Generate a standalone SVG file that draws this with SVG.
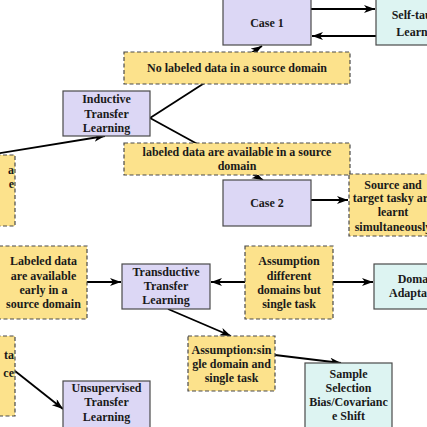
<svg xmlns="http://www.w3.org/2000/svg" width="427" height="427" viewBox="0 0 427 427">
<style>
text{font-family:"Liberation Serif","Times New Roman",serif;font-weight:bold;font-size:12px;fill:#1a1a1a;text-anchor:middle}
.p{fill:#dcd7f5;stroke:#4a4a4a;stroke-width:1.2}
.c{fill:#ddf4f2;stroke:#4a4a4a;stroke-width:1.2}
.y{fill:#fce28c;stroke:#4a4a4a;stroke-width:1.2;stroke-dasharray:4 2.5}
.l{stroke:#000;stroke-width:1.8;fill:none;marker-end:url(#ah)}
</style>
<defs>
<marker id="ah" markerUnits="userSpaceOnUse" markerWidth="12" markerHeight="10" refX="11" refY="4" orient="auto">
<path d="M0,0 L11,4 L0,8 L3,4 Z" fill="#000"/>
</marker>
</defs>
<rect width="427" height="427" fill="#fff"/>
<g id="connectors">
<line class="l" x1="-5" y1="154" x2="105" y2="136"/>
<line class="l" x1="150" y1="118" x2="262" y2="46"/>
<line class="l" x1="150" y1="118" x2="263" y2="180"/>
<line class="l" x1="311" y1="9" x2="375" y2="9"/>
<line class="l" x1="376" y1="36" x2="312" y2="36"/>
<line class="l" x1="311" y1="200" x2="348" y2="200"/>
<line class="l" x1="87" y1="282" x2="121" y2="282"/>
<line class="l" x1="245" y1="282" x2="211" y2="282"/>
<line class="l" x1="333" y1="282" x2="373" y2="282"/>
<line class="l" x1="168" y1="309" x2="231" y2="336"/>
<line class="l" x1="275" y1="355" x2="341" y2="363"/>
<line class="l" x1="15" y1="371" x2="63" y2="409"/>
</g>
<g id="n_left_top"><rect class="y" x="-10" y="155" width="25" height="71"/><text x="14" y="174" style="text-anchor:end">a</text><text x="14" y="188" style="text-anchor:end">e</text></g>
<g id="n_left_bottom"><rect class="y" x="-10" y="336" width="25" height="80"/><text x="14" y="359" style="text-anchor:end">ta</text><text x="14" y="377" style="text-anchor:end">ce</text></g>
<g id="n_case1"><rect class="p" x="223" y="-2" width="88" height="47"/><text x="267" y="27">Case 1</text></g>
<g id="n_selftaught"><rect class="c" x="376" y="-2" width="88" height="47"/><text x="420" y="19">Self-taught</text><text x="420" y="36">Learning</text></g>
<g id="n_nolabel"><rect class="y" x="124" y="52" width="226" height="32"/><text x="237" y="72">No labeled data in a source domain</text></g>
<g id="n_inductive"><rect class="p" x="63" y="91" width="87" height="45"/><text x="106.5" y="103">Inductive</text><text x="106.5" y="118">Transfer</text><text x="106.5" y="132">Learning</text></g>
<g id="n_labelavail"><rect class="y" x="124" y="143" width="226" height="32"/><text x="237" y="156">labeled data are available in a source</text><text x="237" y="170">domain</text></g>
<g id="n_case2"><rect class="p" x="223" y="180" width="88" height="46"/><text x="267" y="207">Case 2</text></g>
<g id="n_simul"><rect class="y" x="349" y="174" width="90" height="62"/><text x="393" y="189">Source and</text><text x="393" y="202">target tasky are</text><text x="393" y="216">learnt</text><text x="393" y="231">simultaneously</text></g>
<g id="n_labeledearly"><rect class="y" x="-1" y="246" width="88" height="73"/><text x="43.5" y="265">Labeled data</text><text x="43.5" y="280">are available</text><text x="43.5" y="294">early in a</text><text x="43.5" y="308">source domain</text></g>
<g id="n_transductive"><rect class="p" x="122" y="264" width="88" height="45"/><text x="166" y="276">Transductive</text><text x="166" y="290">Transfer</text><text x="166" y="304">Learning</text></g>
<g id="n_assumdiff"><rect class="y" x="245" y="246" width="88" height="73"/><text x="289" y="265">Assumption</text><text x="289" y="280">different</text><text x="289" y="294">domains but</text><text x="289" y="308">single task</text></g>
<g id="n_domain"><rect class="c" x="374" y="264" width="88" height="45"/><text x="418" y="283">Domain</text><text x="418" y="297">Adaptation</text></g>
<g id="n_assumsingle"><rect class="y" x="188" y="336" width="87" height="55"/><text x="231.5" y="354">Assumption:sin</text><text x="231.5" y="368">gle domain and</text><text x="231.5" y="382">single task</text></g>
<g id="n_sample"><rect class="c" x="305" y="363" width="87" height="70"/><text x="348.5" y="378">Sample</text><text x="348.5" y="392">Selection</text><text x="348.5" y="406">Bias/Covarianc</text><text x="348.5" y="420">e Shift</text></g>
<g id="n_unsup"><rect class="p" x="63" y="381" width="87" height="52"/><text x="106.5" y="392">Unsupervised</text><text x="106.5" y="406">Transfer</text><text x="106.5" y="421">Learning</text></g>
</svg>
